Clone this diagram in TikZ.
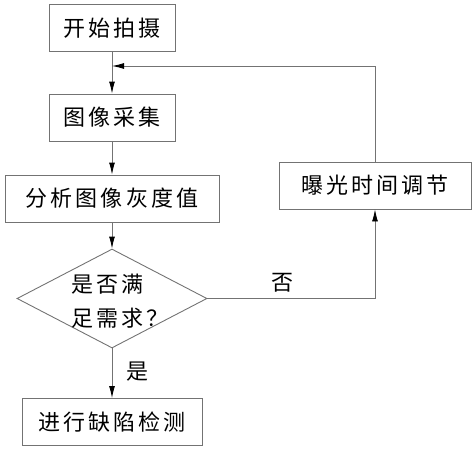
\documentclass[tikz,border=0pt]{standalone}
\usepackage{fontspec}
\newfontfamily\cjk[LetterSpace=14]{Noto Sans CJK SC}
\usepackage{tikz}
\usetikzlibrary{shapes.geometric,arrows.meta,positioning}

\begin{document}
\begin{tikzpicture}[x=1pt,y=1pt,
                        font=\cjk\fontsize{22}{34}\selectfont,
                        stepbox/.style={draw=black!55,line width=0.9pt,minimum height=47pt,inner sep=0pt},
                        decision/.style={draw=black!55,line width=0.9pt,diamond,minimum width=190pt,minimum height=99pt,inner sep=0pt},
                        flow/.style={draw=black!55,line width=0.9pt,-{Latex[length=12pt,width=6pt,black]}}]
                        \useasboundingbox (0,0) rectangle (474,-450);
                        \node[stepbox,minimum width=126pt] (start) at (112,-28) {开始拍摄};
                        \node[stepbox,minimum width=126pt] (capture) at (112,-117.5) {图像采集};
                        \node[stepbox,minimum width=214pt] (analyze) at (112,-198.5) {分析图像灰度值};
                        \node[decision] (check) at (112,-298.5) {};
                        \node[align=left,inner sep=0pt] (checktext) at (120,-301) {是否满\\足需求？};
                        \node[stepbox,minimum width=180pt] (detect) at (112,-422) {进行缺陷检测};
                        \node[stepbox,minimum width=192pt] (expose) at (375,-185.5) {曝光时间调节};
                        \coordinate (join) at (112,-66);
                        \draw[flow] (start) -- (capture);
                        \draw[flow] (capture) -- (analyze);
                        \draw[flow] (analyze) -- (check);
                        \draw[flow] (check) -- (detect);
                        \draw[flow] (check.east) -| (expose.south);
                        \draw[flow] (expose.north) |- (join);
                        \node (no) at (282,-283) {否};
                        \node (yes) at (137,-372) {是};
                    \end{tikzpicture}
\end{document}
